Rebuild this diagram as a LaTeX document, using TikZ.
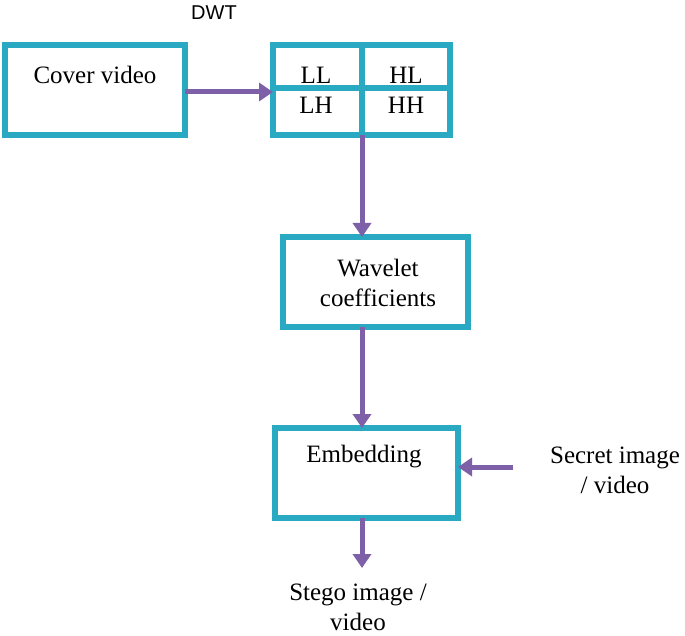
\documentclass[tikz,border=0pt]{standalone}
\usepackage{fontspec}
\setmainfont{Liberation Serif}
\newfontfamily\dwtfont{Liberation Sans}
\usetikzlibrary{arrows.meta}
\definecolor{boxc}{HTML}{2AAAC2}
\definecolor{arrc}{HTML}{7D60A8}
\tikzset{
 bx/.style={draw=boxc,line width=5.5pt},
 ar/.style={draw=arrc,line width=5pt,-{Triangle[length=14pt,width=18pt]}},
 tx/.style={font=\fontsize{25}{30}\selectfont,align=center,inner sep=0pt}
}
\begin{document}
\begin{tikzpicture}[x=1pt,y=-1pt]
\useasboundingbox (0,0) rectangle (685,636);
\draw[bx] (5,45) rectangle (185,135);
\node[tx] (cv) at (95,75) {Cover video};
\coordinate (cvr) at (185,92);
\draw[bx] (273,45) rectangle (450,135);
\draw[bx] (362,45) -- (362,135);
\draw[bx] (273,88) -- (450,88);
\coordinate (dwtl) at (273,92);
\coordinate (dwtb) at (362,135);
\node[tx] (ll) at (316,75) {LL};
\node[tx] (hl) at (406,75) {HL};
\node[tx] (lh) at (316,105) {LH};
\node[tx] (hh) at (406,105) {HH};
\node[font=\dwtfont\fontsize{20}{24}\selectfont] (dwt) at (214,13) {DWT};
\draw[bx] (283,237) rectangle (468,327);
\node[tx] (wc) at (378,283) {Wavelet\\coefficients};
\coordinate (wct) at (362,237);
\coordinate (wcb) at (362,327);
\draw[bx] (275,428) rectangle (458,518);
\node[tx] (em) at (364,457) {Embedding};
\coordinate (emt) at (362,428);
\coordinate (emr) at (458,467);
\coordinate (emb) at (362,518);
\node[tx] (sec) at (615,470) {Secret image\\/ video};
\coordinate (secl) at (513,467);
\node[tx] (st) at (358,607) {Stego image /\\video};
\coordinate (stt) at (362,568);
\draw[ar] (cvr) -- (dwtl);
\draw[ar] (dwtb) -- (wct);
\draw[ar] (wcb) -- (emt);
\draw[ar] (secl) -- (emr);
\draw[ar] (emb) -- (stt);
\end{tikzpicture}
\end{document}
